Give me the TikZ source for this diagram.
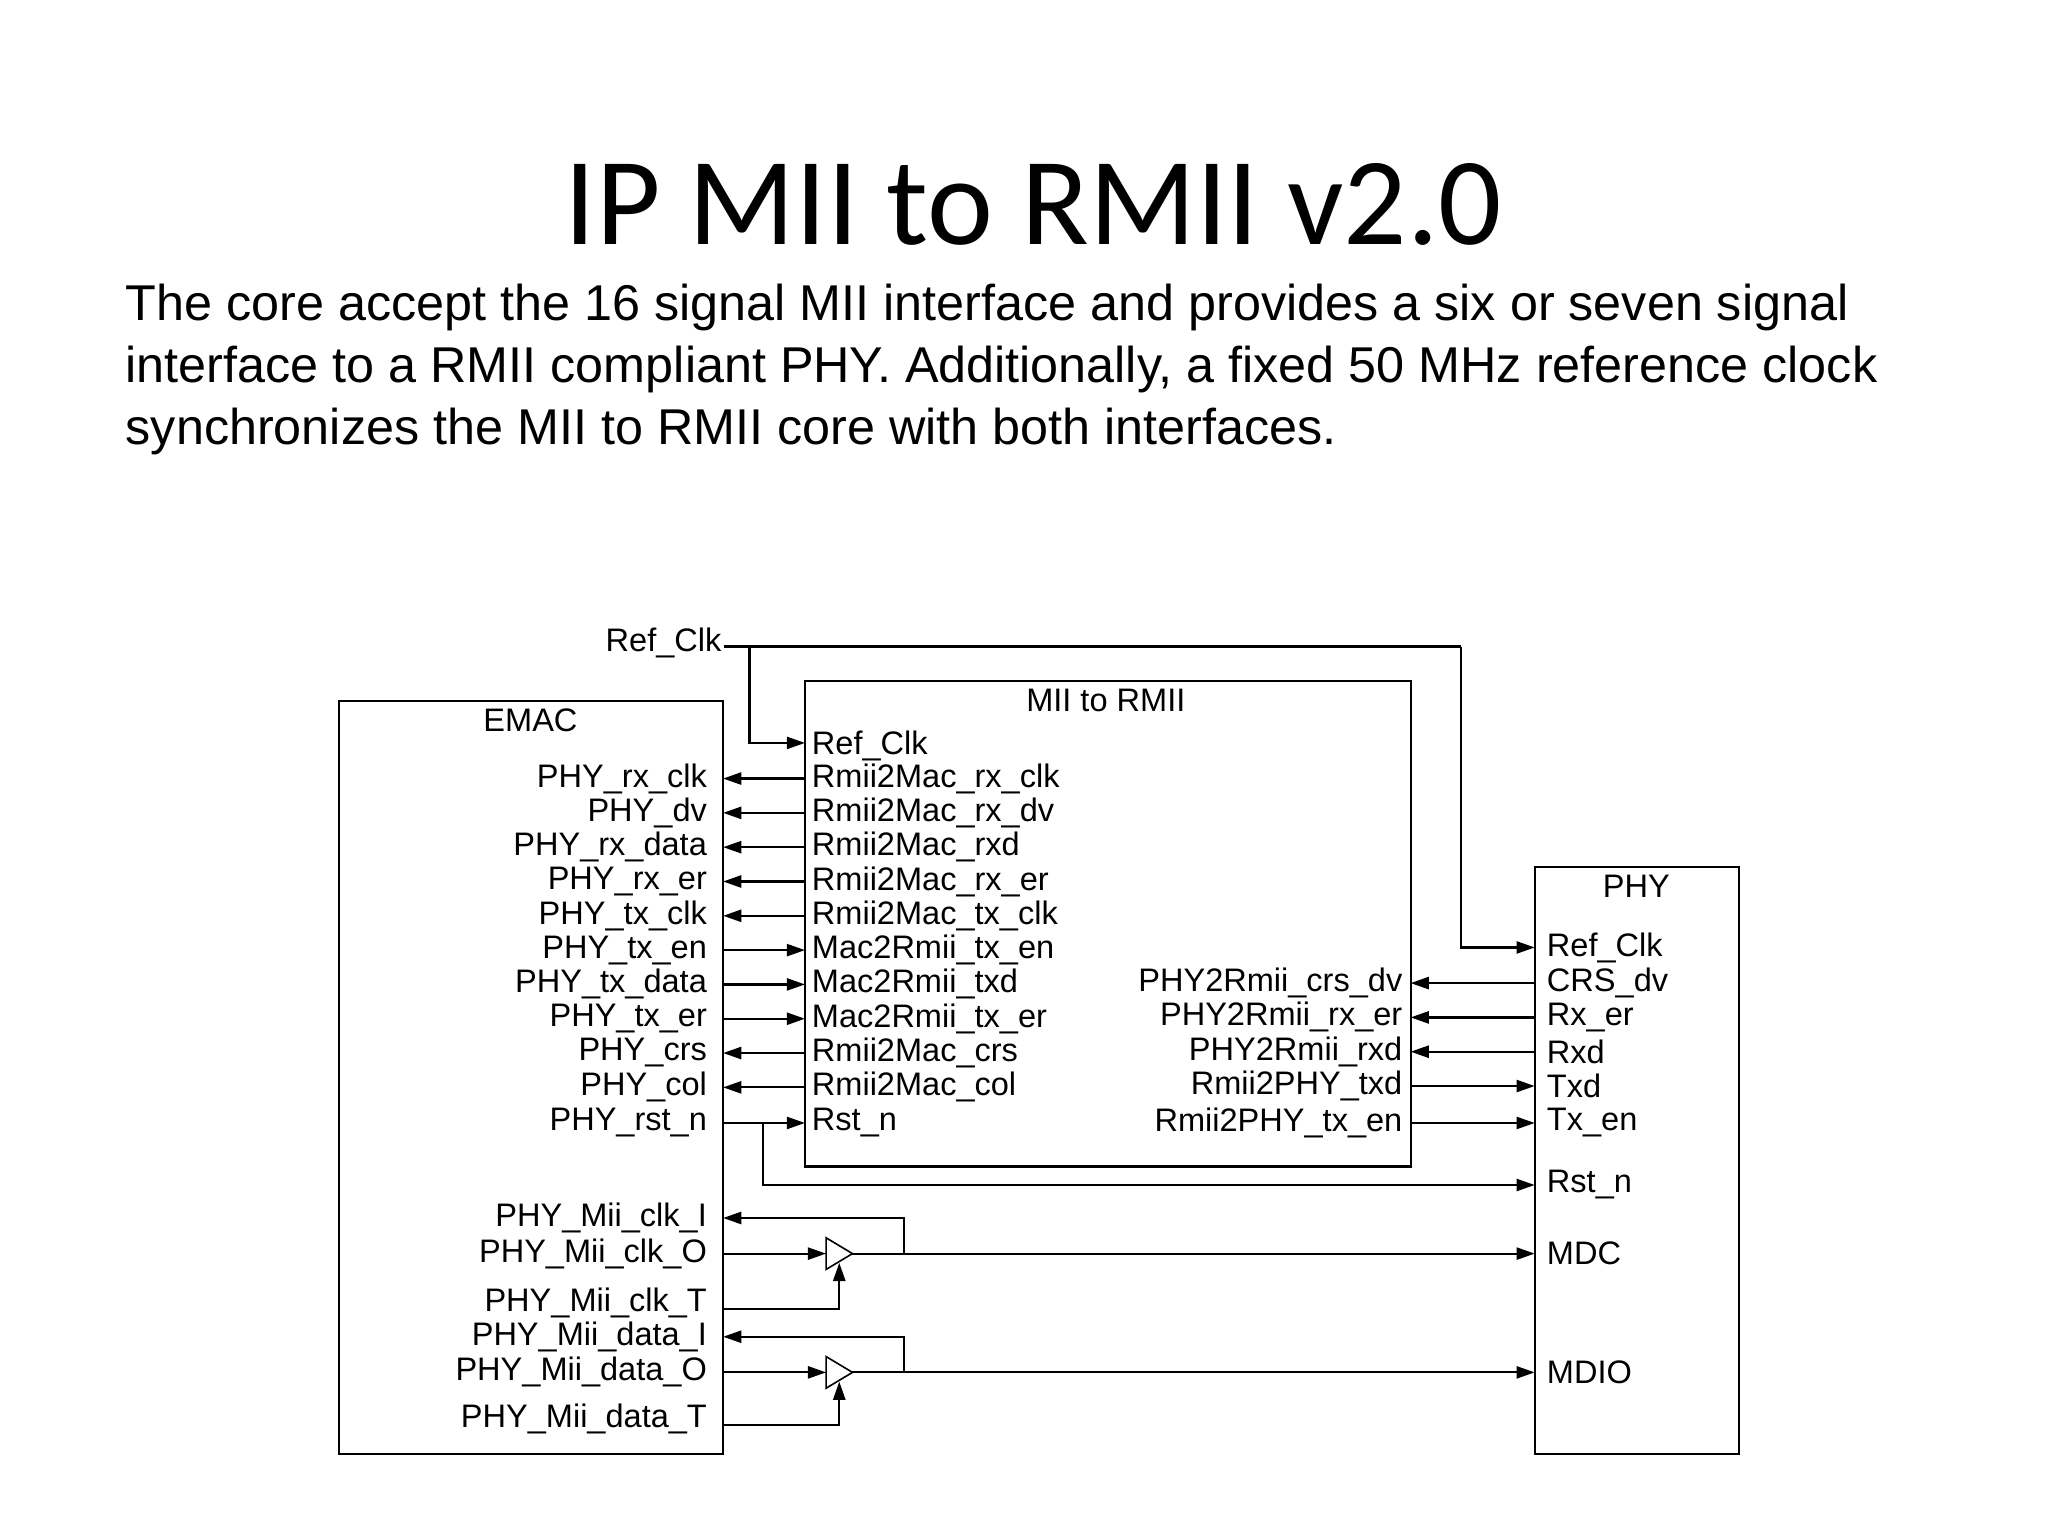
\documentclass[tikz,border=0pt]{standalone}
\usepackage{fontspec}
\setmainfont{Liberation Sans}
\newfontfamily\titlefont{Carlito}
\usetikzlibrary{arrows.meta}
\begin{document}
\begin{tikzpicture}[x=0.653pt,y=-0.653pt,
  box/.style={draw,line width=1.1pt},
  sig/.style={font=\fontsize{16.1}{16}\selectfont,inner sep=0pt},
  w/.style={line width=1.1pt},
  a/.style={w,-{Triangle[length=9pt,width=6pt]}}]
\useasboundingbox (0,0) rectangle (1552,1164);
\fill[white] (0,0) rectangle (1552,1164);
\node[font=\titlefont\fontsize{61.8}{63}\selectfont,anchor=base] (title) at (783,185) {IP MII to RMII v2.0};
\node[font=\fontsize{24.9}{25}\selectfont,anchor=base west,inner sep=0pt] (l1) at (95,243) {The core accept the 16 signal MII interface and provides a six or seven signal};
\node[font=\fontsize{24.9}{25}\selectfont,anchor=base west,inner sep=0pt] (l2) at (95,290) {interface to a RMII compliant PHY. Additionally, a fixed 50 MHz reference clock};
\node[font=\fontsize{24.9}{25}\selectfont,anchor=base west,inner sep=0pt] (l3) at (95,337) {synchronizes the MII to RMII core with both interfaces.};
% boxes
\draw[box] (257,531) rectangle (548,1102);
\draw[box] (610,516) rectangle (1069,884);
\draw[box] (1163,657) rectangle (1318,1102);
\node[sig] (emac) at (402,546) {EMAC};
\node[sig] (mii) at (838,531) {MII to RMII};
\node[sig] (phy) at (1240,672) {PHY};
% Ref clk
\node[sig,anchor=east] (rc) at (547,487) {Ref\_Clk};
\coordinate (rcE) at (549,490);
\coordinate (rcB) at (568,490);
\coordinate (rcR) at (1107,490);
\node[sig,anchor=west] (mrc) at (615,565) {Ref\_Clk};
\node[sig,anchor=west] (prc) at (1172,718) {Ref\_Clk};
\draw[w] (rcE) -- (rcR);
\draw[a] (rcB) |- (610,563);
\draw[a] (rcR) |- (1163,718);
% left side rows
\foreach \el/\ml/\y/\d in {
 PHY\_rx\_clk/Rmii2Mac\_rx\_clk/590/l,
 PHY\_dv/Rmii2Mac\_rx\_dv/616/l,
 PHY\_rx\_data/Rmii2Mac\_rxd/642/l,
 PHY\_rx\_er/Rmii2Mac\_rx\_er/668/l,
 PHY\_tx\_clk/Rmii2Mac\_tx\_clk/694/l,
 PHY\_tx\_en/Mac2Rmii\_tx\_en/720/r,
 PHY\_tx\_data/Mac2Rmii\_txd/746/r,
 PHY\_tx\_er/Mac2Rmii\_tx\_er/772/r,
 PHY\_crs/Rmii2Mac\_crs/798/l,
 PHY\_col/Rmii2Mac\_col/824/l,
 PHY\_rst\_n/Rst\_n/851/r}{
 \node[sig,anchor=east] (e\y) at (536,\y) {\el};
 \node[sig,anchor=west] (m\y) at (615,\y) {\ml};
 \if\d l \draw[a] (610,\y) -- (548,\y); \else \draw[a] (548,\y) -- (610,\y); \fi
}
% right side rows
\foreach \ml/\pl/\y/\d in {
 PHY2Rmii\_crs\_dv/CRS\_dv/745/l,
 PHY2Rmii\_rx\_er/Rx\_er/771/l,
 PHY2Rmii\_rxd/Rxd/797/l,
 Rmii2PHY\_txd/Txd/823/r,
 Rmii2PHY\_tx\_en/Tx\_en/851/r}{
 \node[sig,anchor=east] (r\y) at (1063,\y) {\ml};
 \node[sig,anchor=west] (p\y) at (1172,\y) {\pl};
 \if\d l \draw[a] (1163,\y) -- (1069,\y); \else \draw[a] (1069,\y) -- (1163,\y); \fi
}
% Rst_n to PHY
\node[sig,anchor=west] (prst) at (1172,898) {Rst\_n};
\draw[a] (578,851) |- (1163,898);
% buffers
\foreach \n/\yi/\yo/\yt/\pl in {clk/923/950/992/MDC, data/1013/1040/1080/MDIO}{
 \node[sig,anchor=east] (I\n) at (536,\yi) {PHY\_Mii\_\n\_I};
 \node[sig,anchor=east] (O\n) at (536,\yo) {PHY\_Mii\_\n\_O};
 \node[sig,anchor=east] (T\n) at (536,\yt-5) {PHY\_Mii\_\n\_T};
 \node[sig,anchor=west] (P\n) at (1172,\yo) {\pl};
 \draw[line width=0.8pt,fill=white] (626,\yo-12) -- (646,\yo) -- (626,\yo+12) -- cycle;
 \draw[a] (548,\yo) -- (626,\yo);
 \draw[a] (548,\yt) -| (636,\yo+7);
 \draw[a] (646,\yo) -- (1163,\yo);
 \draw[a] (685,\yo) |- (548,\yi);
}
\end{tikzpicture}
\end{document}
